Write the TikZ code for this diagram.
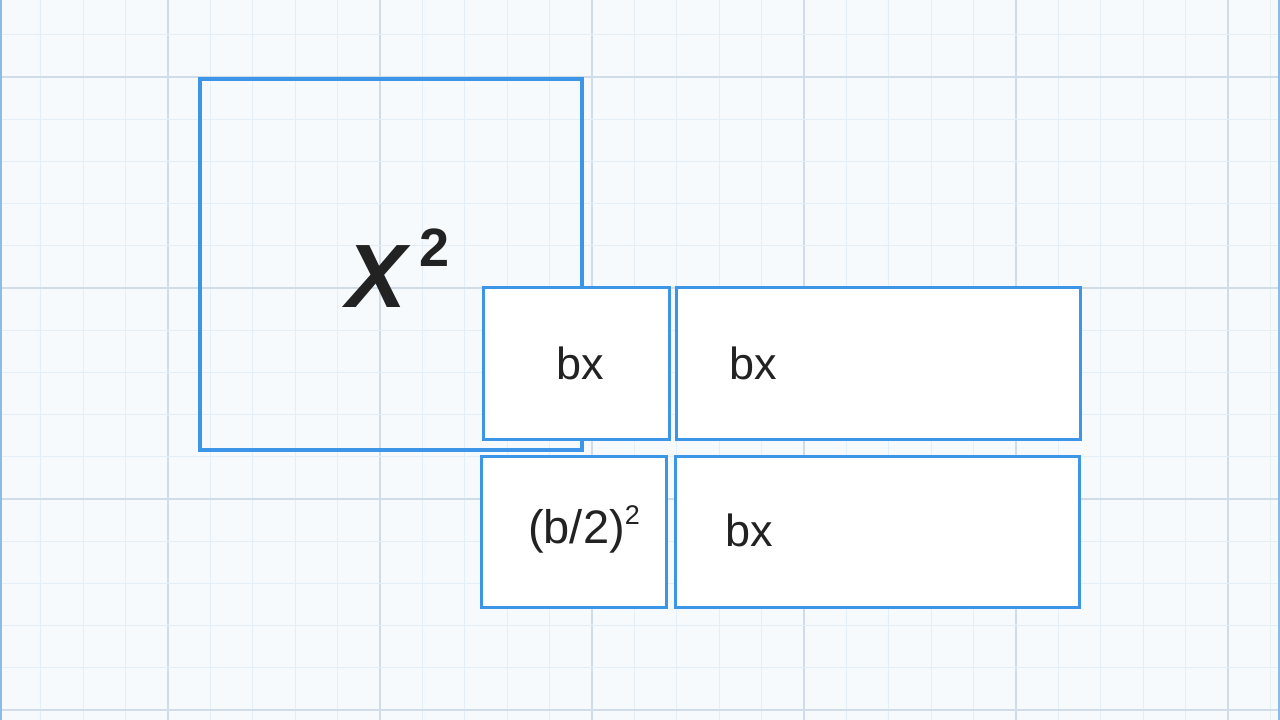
\documentclass[tikz,border=0pt]{standalone}
\usepackage{fontspec}
\setmainfont{Liberation Sans}
\definecolor{bgc}{HTML}{F6FAFD}
\definecolor{minorc}{HTML}{E4EEF7}
\definecolor{majorc}{HTML}{D0DDE8}
\definecolor{boxblue}{HTML}{3C95E6}
\definecolor{edgeblue}{HTML}{8DBBE8}
\definecolor{ink}{HTML}{222222}
\tikzset{
  minorline/.style={draw=minorc, line width=1.2pt},
  majorline/.style={draw=majorc, line width=1.3pt},
  bigsquare/.style={draw=boxblue, line width=4pt, rectangle, inner sep=0pt, outer sep=0pt},
  tile/.style={draw=boxblue, fill=white, line width=3pt, rectangle, inner sep=0pt, outer sep=0pt},
  lbl/.style={text=ink, inner sep=0pt, anchor=base, font=\fontsize{45}{45}\selectfont},
}
\begin{document}
\begin{tikzpicture}[x=1pt,y=-1pt]
\useasboundingbox (0,0) rectangle (1280,720);
\fill[bgc] (0,0) rectangle (1280,720);
% grid
\foreach \k in {-4,...,26}{
  \pgfmathsetmacro\xx{168+42.4*\k}
  \pgfmathtruncatemacro\m{mod(\k+20,5)}
  \ifnum\m=0 \draw[majorline] (\xx,0) -- (\xx,720); \else \draw[minorline] (\xx,0) -- (\xx,720); \fi
}
\foreach \k in {-2,...,15}{
  \pgfmathsetmacro\yy{77+42.2*\k}
  \pgfmathtruncatemacro\m{mod(\k+20,5)}
  \ifnum\m=0 \draw[majorline] (0,\yy) -- (1280,\yy); \else \draw[minorline] (0,\yy) -- (1280,\yy); \fi
}
% frame edges
\draw[edgeblue, line width=2.5pt] (1,0) -- (1,720);
\draw[edgeblue, line width=2.5pt] (1279,0) -- (1279,720);
% big square
\node[bigsquare, minimum width=382pt, minimum height=371pt] (sq) at (390.5,264.5) {};
% tiles
\node[tile, minimum width=186pt, minimum height=152pt] (bxa) at (576,363) {};
\node[tile, minimum width=404pt, minimum height=152pt] (bxb) at (878,363) {};
\node[tile, minimum width=185pt, minimum height=151pt] (sqb) at (573.5,531.5) {};
\node[tile, minimum width=404pt, minimum height=151pt] (bxc) at (877,531.5) {};
% labels
\node[text=ink, inner sep=0pt, anchor=base, font=\fontsize{90}{90}\selectfont\bfseries\itshape] (xl) at (377,307) {X};
\node[text=ink, inner sep=0pt, anchor=base, font=\fontsize{54}{54}\selectfont\bfseries] (xs) at (435,266) {2};
\node[lbl] (la) at (580,379) {bx};
\node[lbl] (lb) at (753,379) {bx};
\node[lbl, font=\fontsize{47}{47}\selectfont] (lc) at (584,543) {(b/2)\raisebox{19pt}{\fontsize{27}{27}\selectfont 2}};
\node[lbl] (ld) at (749,546) {bx};
\end{tikzpicture}
\end{document}
